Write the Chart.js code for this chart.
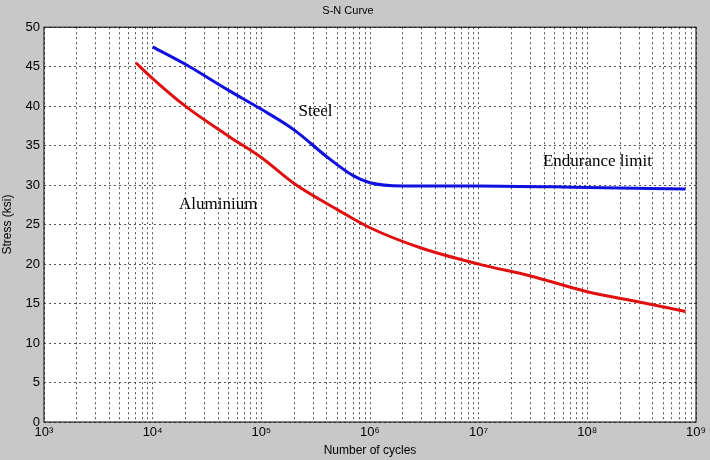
<!DOCTYPE html>
<html><head><meta charset="utf-8">
<script src="https://cdn.jsdelivr.net/npm/chart.js@4"></script>
<style>html,body{margin:0;padding:0;background:#c8c8c8;}#w{width:710px;height:460px;}</style>
</head><body><div id="w"><canvas id="c"></canvas></div>
<script>
const steelX=[1e4,2e4,5e4,1e5,2e5,4e5,7e5,1e6,2e6,1e7,1e8,8e8];
const steelY=[47.5,45.3,42,39.6,37,33.6,31.2,30.3,29.9,29.9,29.7,29.5];
const aluX=[7e3,1e4,2e4,5e4,1e5,2e5,5e5,1e6,3e6,1e7,3e7,1e8,3e8,8e8];
const aluY=[45.5,43.5,40,36.2,33.5,30.2,26.9,24.6,22,20,18.5,16.5,15.2,14];
const labels=[{t:'Steel',x:2.2e5,y:39.3},{t:'Aluminium',x:1.75e4,y:27.5},{t:'Endurance limit',x:3.9e7,y:33}];
const sup={'3':'³','4':'⁴','5':'⁵','6':'⁶','7':'⁷','8':'⁸','9':'⁹'};
const bg={id:'bg',beforeDraw(ch){const a=ch.chartArea,c=ch.ctx;c.save();c.fillStyle='#fff';c.fillRect(a.left,a.top,a.right-a.left,a.bottom-a.top);c.restore();},
afterDatasetsDraw(ch){const c=ch.ctx;c.save();c.font='17px "Liberation Serif"';c.fillStyle='#000';c.textBaseline='middle';
labels.forEach(l=>c.fillText(l.t,ch.scales.x.getPixelForValue(l.x),ch.scales.y.getPixelForValue(l.y)));
const a=ch.chartArea;c.strokeStyle='#000';c.lineWidth=1;c.strokeRect(a.left,a.top,a.right-a.left,a.bottom-a.top);c.restore();}};
new Chart(document.getElementById('c'),{type:'line',
data:{datasets:[
{data:steelX.map((x,i)=>({x,y:steelY[i]})),borderColor:'#1010e0',borderWidth:3,pointRadius:0,cubicInterpolationMode:'monotone'},
{data:aluX.map((x,i)=>({x,y:aluY[i]})),borderColor:'#e01010',borderWidth:3,pointRadius:0,cubicInterpolationMode:'monotone'}]},
options:{responsive:true,maintainAspectRatio:false,animation:false,
layout:{padding:{left:0,right:14,top:0,bottom:0}},
plugins:{legend:{display:false},tooltip:{enabled:false},
title:{display:true,text:'S-N Curve',font:{family:'Liberation Sans',size:11,weight:'normal'},color:'#000',padding:{top:4,bottom:10}}},
scales:{
x:{type:'logarithmic',min:1e3,max:1e9,
afterBuildTicks(s){const t=[];for(let e=3;e<=9;e++){for(let m=1;m<=9;m++){if(e==9&&m>1)break;t.push({value:m*Math.pow(10,e)});}}s.ticks=t;},
ticks:{autoSkip:false,maxRotation:0,color:'#000',font:{family:'Liberation Sans',size:13},
callback(v){const e=Math.round(Math.log10(v));return Math.abs(v-Math.pow(10,e))<1e-6*v?'10'+sup[e]:'';}},
grid:{color:'#555',lineWidth:1,tickLength:0,drawTicks:false},border:{display:false,dash:[2,3]},
title:{display:true,text:'Number of cycles',font:{family:'Liberation Sans',size:12},color:'#000',padding:{top:0,bottom:2}}},
y:{min:0,max:50,
afterFit(s){s.width=44;},
ticks:{stepSize:5,color:'#000',font:{family:'Liberation Sans',size:13},padding:4},
grid:{color:'#555',drawTicks:false},border:{display:false,dash:[2,3]},
title:{display:true,text:'Stress (ksi)',font:{family:'Liberation Sans',size:12},color:'#000',padding:0}}}},
plugins:[bg]});
</script></body></html>
